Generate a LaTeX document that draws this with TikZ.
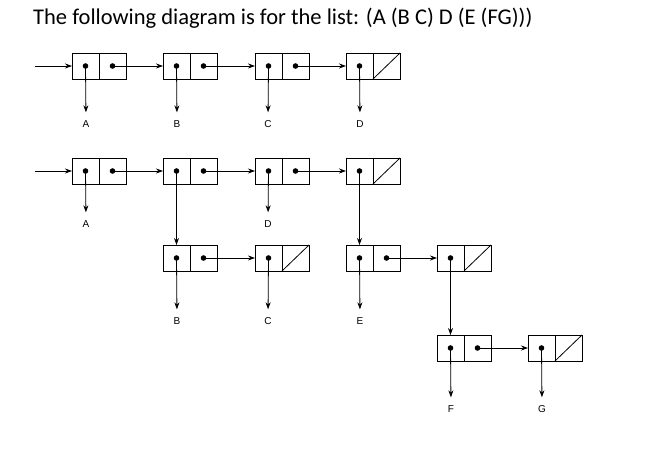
\documentclass[tikz,border=0pt]{standalone}
\usepackage{fontspec}
\setmainfont{Carlito}
\newfontfamily\lbl{Liberation Sans}
\usetikzlibrary{arrows.meta,calc}
\tikzset{
  cellbox/.style={draw,line width=0.8pt,minimum width=54pt,minimum height=26pt,inner sep=0pt,outer sep=0pt},
  ptr/.style={line width=0.8pt,-{Stealth[length=7pt,width=5pt]}},
  lptr/.style={ptr,shorten >=7pt},
  lab/.style={font=\lbl\fontsize{10}{11}\selectfont,inner sep=1pt},
}
\newcommand\mkpair[3]{%
  \node[cellbox] (#1) at (#2+27,#3) {};
  \draw[line width=0.8pt] (#1.north) -- (#1.south);
  \coordinate (#1-car) at (#2+13.5,#3);
  \coordinate (#1-cdr) at (#2+40.5,#3);
  \fill (#1-car) circle (2.8pt);}
\newcommand\mkcdr[1]{\fill (#1-cdr) circle (2.8pt);}
\newcommand\mknil[1]{\draw[line width=0.8pt] (#1.south) -- (#1.north east);}
\begin{document}
\begin{tikzpicture}[x=1pt,y=-1pt]
\useasboundingbox (0,0) rectangle (655,454);
\node[anchor=west,font=\fontsize{22.5}{26}\selectfont,inner sep=0pt] (title) at (33,18) {The following diagram is for the list: (A (B C) D (E (FG)))};
% row 1
\mkpair{a1}{72}{66}\mkcdr{a1}
\mkpair{a2}{163}{66}\mkcdr{a2}
\mkpair{a3}{255}{66}\mkcdr{a3}
\mkpair{a4}{346}{66}\mknil{a4}
\coordinate (s1) at (35,66);
\draw[ptr] (s1) -- (a1.west);
\draw[ptr] (a1-cdr) -- (a2.west);
\draw[ptr] (a2-cdr) -- (a3.west);
\draw[ptr] (a3-cdr) -- (a4.west);
\node[lab] (lA1) at (86,124) {A};
\node[lab] (lB1) at (177,124) {B};
\node[lab] (lC1) at (268,124) {C};
\node[lab] (lD1) at (360,124) {D};
\draw[lptr] (a1-car) -- (lA1.north);
\draw[lptr] (a2-car) -- (lB1.north);
\draw[lptr] (a3-car) -- (lC1.north);
\draw[lptr] (a4-car) -- (lD1.north);
% row 2
\mkpair{b1}{72}{171}\mkcdr{b1}
\mkpair{b2}{163}{171}\mkcdr{b2}
\mkpair{b3}{255}{171}\mkcdr{b3}
\mkpair{b4}{346}{171}\mknil{b4}
\coordinate (s2) at (35,171);
\draw[ptr] (s2) -- (b1.west);
\draw[ptr] (b1-cdr) -- (b2.west);
\draw[ptr] (b2-cdr) -- (b3.west);
\draw[ptr] (b3-cdr) -- (b4.west);
\node[lab] (lA2) at (86,224) {A};
\node[lab] (lD2) at (268,224) {D};
\draw[lptr] (b1-car) -- (lA2.north);
\draw[lptr] (b3-car) -- (lD2.north);
% row 3
\mkpair{c1}{163}{258}\mkcdr{c1}
\mkpair{c2}{255}{258}\mknil{c2}
\mkpair{c3}{346}{258}\mkcdr{c3}
\mkpair{c4}{437}{258}\mknil{c4}
\draw[ptr] (b2-car) -- (b2-car |- c1.north);
\draw[ptr] (b4-car) -- (b4-car |- c3.north);
\draw[ptr] (c1-cdr) -- (c2.west);
\draw[ptr] (c3-cdr) -- (c4.west);
\node[lab] (lB3) at (177,321) {B};
\node[lab] (lC3) at (268,321) {C};
\node[lab] (lE3) at (360,321) {E};
\draw[lptr] (c1-car) -- (lB3.north);
\draw[lptr] (c2-car) -- (lC3.north);
\draw[lptr] (c3-car) -- (lE3.north);
% row 4
\mkpair{d1}{437}{348}\mkcdr{d1}
\mkpair{d2}{528}{348}\mknil{d2}
\draw[ptr] (c4-car) -- (c4-car |- d1.north);
\draw[ptr] (d1-cdr) -- (d2.west);
\node[lab] (lF4) at (451,409) {F};
\node[lab] (lG4) at (542,409) {G};
\draw[lptr] (d1-car) -- (lF4.north);
\draw[lptr] (d2-car) -- (lG4.north);
\end{tikzpicture}
\end{document}
